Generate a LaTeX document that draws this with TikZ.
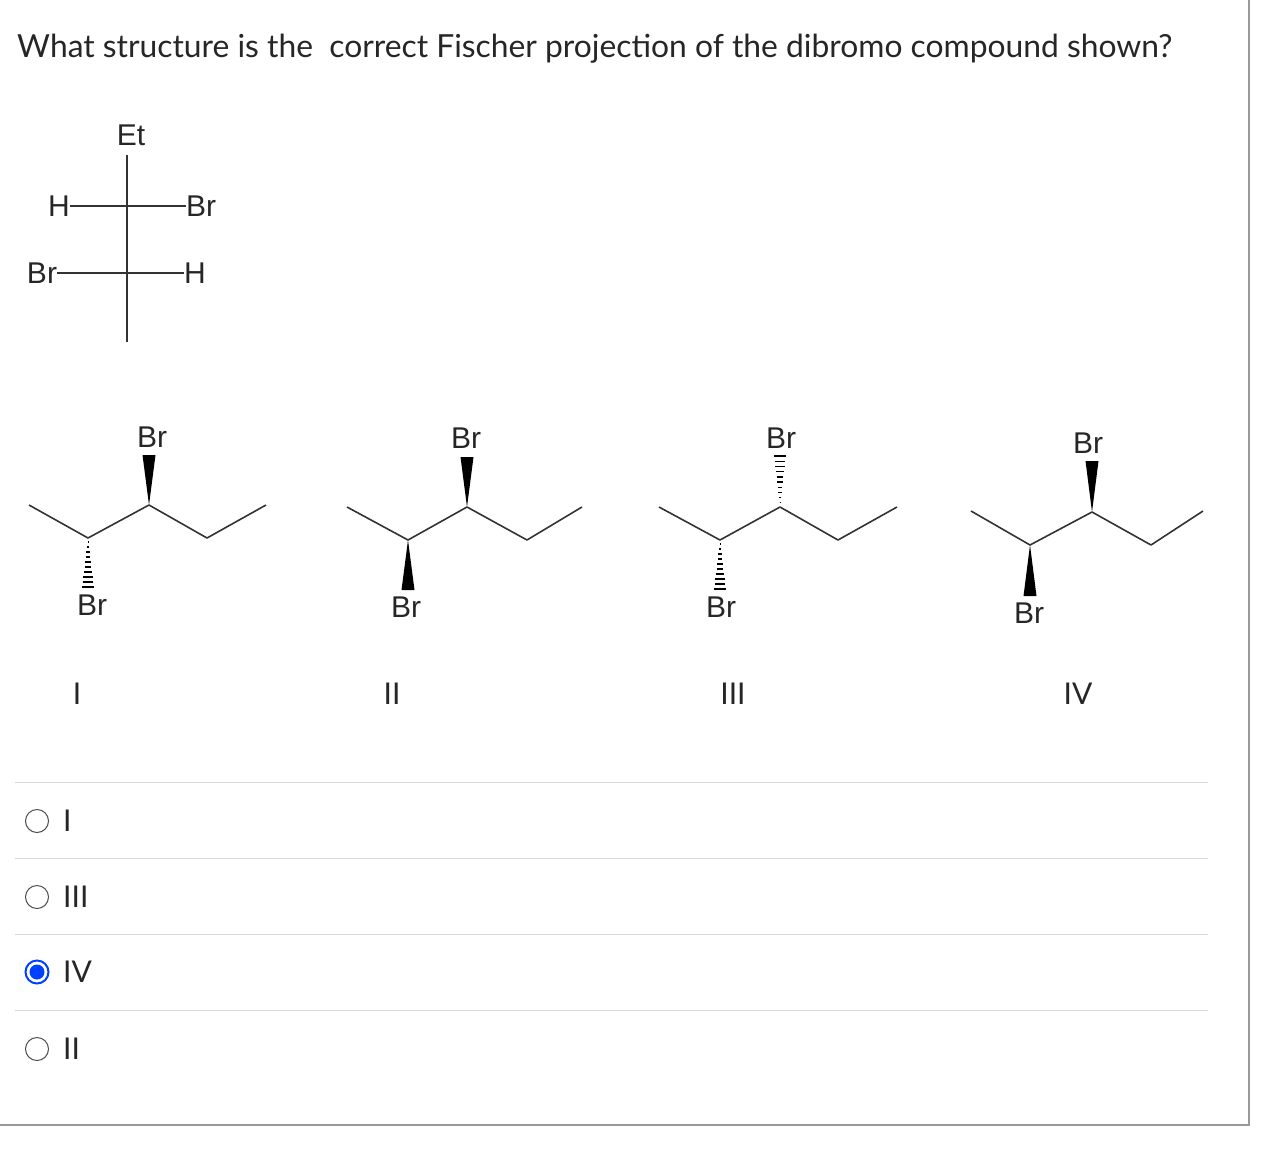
\documentclass[tikz,border=0pt]{standalone}
\usepackage{fontspec}
\usetikzlibrary{calc}
\setmainfont{Lato}
\newfontfamily\arialf{Liberation Sans}
\begin{document}
\begin{tikzpicture}[x=1pt,y=-1pt,
  bond/.style={line width=1.6pt,black!80},
  lbl/.style={font=\arialf\fontsize{30}{33}\selectfont,inner sep=0pt,text=black!85},
  sep/.style={line width=0.8pt,black!15},
  opt/.style={font=\fontsize{30}{33}\selectfont,anchor=west,inner sep=0pt,text=black!85},
  radio/.style={circle,draw=black!70,line width=1pt,minimum size=23pt,inner sep=0pt}]
\useasboundingbox (0,0) rectangle (1276,1165);
\draw[black!40,line width=1.2pt] (1249,0) -- (1249,1125) -- (0,1125);
\node[anchor=base west,inner sep=0pt,font=\fontsize{31.8}{34}\selectfont,text=black!85] (title) at (17,57) {What structure is the\ \ correct Fischer projection of the dibromo compound shown?};
% Fischer
\node[lbl] (et) at (131,135) {Et};
\node[lbl] (h1) at (59,206) {H};
\node[lbl] (br1) at (201,206) {Br};
\node[lbl] (br2) at (42,273) {Br};
\node[lbl] (h2) at (195,273) {H};
\coordinate (fb) at (127,342);
\draw[bond,line width=1.4pt] (127,155) -- (fb);
\draw[bond,line width=1.4pt] (h1.east) -- (br1.west);
\draw[bond,line width=1.4pt] (br2.east) -- (h2.west);
% macros
\newcommand{\wedgeb}[2]{\fill[black] (#1) -- ($(#2)+(-6.5,0)$) -- ($(#2)+(6.5,0)$) -- cycle;}
\newcommand{\hashb}[2]{\foreach \t in {0.08,0.18,...,1.0}{\draw[black,line width=1.3pt] ($(#1)!\t!(#2)+(-6*\t,0)$) -- ($(#1)!\t!(#2)+(6*\t,0)$);}}
% structure skeletons
\foreach \n/\ax/\ay/\bx/\by/\cx/\cy/\dx/\dy/\ex/\ey in {
  a/29/505/88/538/149/505/207/538/266/505,
  b/347/507/408/540/467/507/527/540/582/507,
  c/659/507/720/540/780/507/838/540/897/507,
  d/971/511/1030/545/1092/512/1151/545/1203/511}{
  \coordinate (\n1) at (\ax,\ay); \coordinate (\n2) at (\bx,\by);
  \coordinate (\n3) at (\cx,\cy); \coordinate (\n4) at (\dx,\dy);
  \coordinate (\n5) at (\ex,\ey);
  \draw[bond,line join=round] (\n1) -- (\n2) -- (\n3) -- (\n4) -- (\n5);
}
% I
\node[lbl] (aT) at (152,437) {Br}; \node[lbl] (aB) at (92,605) {Br};
\coordinate (aTe) at (149,455); \coordinate (aBe) at (88,588);
\wedgeb{a3}{aTe} \hashb{a2}{aBe}
% II
\node[lbl] (bT) at (466,438) {Br}; \node[lbl] (bB) at (406,607) {Br};
\coordinate (bTe) at (467,457); \coordinate (bBe) at (408,590);
\wedgeb{b3}{bTe} \wedgeb{b2}{bBe}
% III
\node[lbl] (cT) at (781,438) {Br}; \node[lbl] (cB) at (721,607) {Br};
\coordinate (cTe) at (780,455); \coordinate (cBe) at (720,590);
\hashb{c3}{cTe} \hashb{c2}{cBe}
% IV
\node[lbl] (dT) at (1088,443) {Br}; \node[lbl] (dB) at (1029,613) {Br};
\coordinate (dTe) at (1092,461); \coordinate (dBe) at (1030,596);
\wedgeb{d3}{dTe} \wedgeb{d2}{dBe}
% numerals
\node[lbl,font=\fontsize{30}{33}\selectfont] (n1) at (77,694) {I};
\node[lbl,font=\fontsize{30}{33}\selectfont] (n2) at (392,694) {II};
\node[lbl,font=\fontsize{30}{33}\selectfont] (n3) at (733,694) {III};
\node[lbl,font=\fontsize{30}{33}\selectfont] (n4) at (1078,694) {IV};
% options
\foreach \y in {782,858,934,1010}{\draw[sep] (15,\y) -- (1208,\y);}
\node[radio] (r1) at (37,821) {}; \node[opt] (o1) at (63,821) {I};
\node[radio] (r2) at (37,897) {}; \node[opt] (o2) at (63,897) {III};
\node[radio,draw=blue!75!cyan,line width=2pt] (r3) at (37,972) {};
\fill[blue!75!cyan] (r3.center) circle (7.5);
\node[opt] (o3) at (63,972) {IV};
\node[radio] (r4) at (37,1049) {}; \node[opt] (o4) at (63,1049) {II};
\end{tikzpicture}
\end{document}
